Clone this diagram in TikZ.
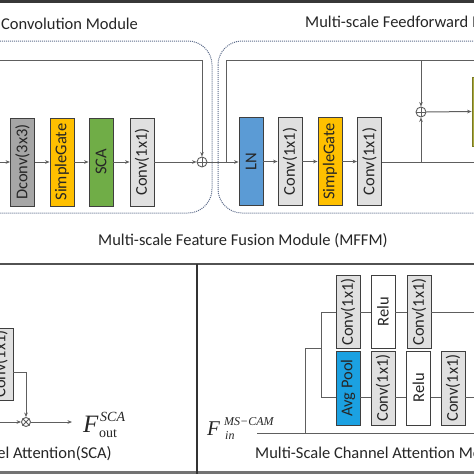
\documentclass[tikz,border=0pt]{standalone}
\usepackage{fontspec}
\setmainfont{Carlito}
\newfontfamily\tms{Liberation Serif}
\usetikzlibrary{arrows.meta,calc}
\definecolor{linec}{HTML}{5E5E5E}
\definecolor{bordc}{HTML}{3F3F3F}
\definecolor{dashc}{HTML}{5F6E8C}
\definecolor{dgray}{HTML}{A6A6A6}
\definecolor{lgray}{HTML}{E0E0E0}
\definecolor{gold}{HTML}{FFC000}
\definecolor{sgreen}{HTML}{70AD47}
\definecolor{lnblue}{HTML}{5B9BD5}
\definecolor{apblue}{HTML}{1BA1E2}
\definecolor{olive}{HTML}{A9A83E}
\definecolor{olived}{HTML}{7A7A22}
\begin{document}
\begin{tikzpicture}[x=1pt,y=-1pt,
  every node/.style={font=\fontsize{16.5}{16.5}\selectfont, text=black!85},
  blk/.style={draw=bordc, line width=0.8pt, inner sep=0pt, minimum width=24pt, minimum height=88pt},
  cn/.style={draw=linec, line width=1pt},
  arr/.style={cn, -{Stealth[length=4.5pt,width=3.6pt]}},
  dashbox/.style={draw=dashc, line width=1pt, dash pattern=on 1pt off 1pt, rounded corners=24pt},
  opl/.style={circle, draw=linec, line width=0.9pt, minimum size=10pt, inner sep=0pt, fill=white},
  lbl/.style={anchor=base west, inner sep=0pt},
]
\useasboundingbox (0,0) rectangle (474,474);
\clip (0,0) rectangle (474,474);
\fill[white] (0,0) rectangle (474,474);
% frame lines
\fill[black!78] (0,0) rectangle (474,3);
\draw[black!68, line width=1.8pt] (0,264) -- (474,264);
\draw[black!55, line width=3pt] (0,472.5) -- (474,472.5);
\draw[black!80, line width=1.2pt] (197,264) -- (197,474);

% titles
\node[lbl] (t1) at (1,29) {Convolution Module};
\node[lbl] (t2) at (305,27) {Multi-scale Feedforward Module};
\node[anchor=base, inner sep=0pt] (t3) at (243,245) {Multi-scale Feature Fusion Module (MFFM)};

% dashed module boxes
\draw[dashbox] (-60,41) rectangle (212,213);
\draw[dashbox] (218,41) rectangle (540,213);

% left module
\node[blk, fill=dgray] (dconv) at (22.5,162) {\rotatebox{90}{Dconv(3x3)}};
\node[blk, fill=gold] (sg1) at (62,162) {\rotatebox{90}{SimpleGate}};
\node[blk, fill=sgreen] (sca) at (101,162) {\rotatebox{90}{SCA}};
\node[blk, fill=lgray] (conv1) at (142,162) {\rotatebox{90}{Conv(1x1)}};
\node[opl] (p1) at (202,162) {};
\draw[linec, line width=0.9pt] (p1.north) -- (p1.south) (p1.west) -- (p1.east);
\coordinate (in1) at (-5,162);
\coordinate (skip1) at (-5,60);
\draw[arr] (in1) -- (dconv.west);
\draw[arr] (dconv.east) -- (sg1.west);
\draw[arr] (sg1.east) -- (sca.west);
\draw[arr] (sca.east) -- (conv1.west);
\draw[arr] (conv1.east) -- (p1.west);
\draw[arr] (skip1) -| (p1.north);

% right module
\node[blk, fill=lnblue] (ln) at (251,161.5) {\rotatebox{90}{LN}};
\node[blk, fill=lgray] (conv2) at (290,161.5) {\rotatebox{90}{Conv(1x1)}};
\node[blk, fill=gold] (sg2) at (330,161.5) {\rotatebox{90}{SimpleGate}};
\node[blk, fill=lgray] (conv3) at (369.5,161.5) {\rotatebox{90}{Conv(1x1)}};
\node[opl] (p2) at (421,112) {};
\draw[linec, line width=0.9pt] (p2.north) -- (p2.south) (p2.west) -- (p2.east);
\node[draw=olived, line width=0.8pt, fill=olive, inner sep=0pt, minimum width=24pt, minimum height=69pt] (olv) at (484,111.5) {};
\draw[arr] (p1.east) -- (ln.west |- p1.east);
\draw[arr] (ln.east) -- (conv2.west);
\draw[arr] (conv2.east) -- (sg2.west);
\draw[arr] (sg2.east) -- (conv3.west);
\coordinate (br) at (226,162);
\coordinate (top2) at (490,60);
\coordinate (t2x) at (421,60);
\coordinate (b2x) at (421,162);
\coordinate (out2) at (490,162);
\draw[cn] (br) |- (top2);
\draw[cn] (conv3.east |- br) -- (out2);
\draw[arr] (t2x) -- (p2.north);
\draw[arr] (b2x) -- (p2.south);
\draw[arr] (p2.east) -- (olv.west);

% bottom-left: SCA
\node[blk, fill=lgray, minimum width=25pt, minimum height=72pt] (convL) at (0.5,364) {\rotatebox{90}{Conv(1x1)}};
\node[opl, minimum size=9pt] (ot) at (26,422) {};
\draw[linec, line width=0.9pt] (ot.45) -- (ot.225) (ot.135) -- (ot.315);
\coordinate (inL) at (-5,422);
\coordinate (outL) at (72,422);
\draw[arr] ([yshift=-8pt]convL.east) -| (ot.north);
\draw[arr] (inL) -- (ot.west);
\draw[arr] (ot.east) -- (outL);
\node[lbl] (fsca) at (83,432) {\fontsize{25}{25}\selectfont\tms\itshape F};
\node[lbl] (fscasup) at (100,421) {\fontsize{14}{14}\selectfont\tms\itshape SCA};
\node[lbl] (fscasub) at (99,437) {\fontsize{14}{14}\selectfont\tms out};
\node[anchor=base east, inner sep=0pt] (t4) at (112,458) {Simplified Channel Attention(SCA)};

% bottom-right: MS-CAM
\node[blk, fill=lgray, minimum height=73pt] (uc1) at (348,312) {\rotatebox{90}{Conv(1x1)}};
\node[blk, fill=white, minimum height=73pt] (ur) at (383,312) {\rotatebox{90}{Relu}};
\node[blk, fill=lgray, minimum height=73pt] (uc2) at (419,312) {\rotatebox{90}{Conv(1x1)}};
\node[blk, fill=apblue, minimum height=74pt] (avg) at (348,388) {\rotatebox{90}{Avg Pool}};
\node[blk, fill=lgray, minimum height=74pt] (lc1) at (383,388) {\rotatebox{90}{Conv(1x1)}};
\node[blk, fill=white, minimum height=74pt] (lr) at (418.5,388) {\rotatebox{90}{Relu}};
\node[blk, fill=lgray, minimum height=74pt] (lc2) at (453,388) {\rotatebox{90}{Conv(1x1)}};
\coordinate (msin) at (257,433);
\coordinate (msend) at (490,433);
\coordinate (v1) at (305,433);
\coordinate (v2) at (321,348);
\coordinate (vu) at (321,312);
\coordinate (vl) at (321,397);
\coordinate (uend) at (490,312);
\coordinate (lend) at (490,397);
\draw[cn] (msin) -- (msend);
\draw[cn] (v1) |- (v2);
\draw[cn] (vu) -- (vl);
\draw[cn] (vu) -- (uc1.west);
\draw[cn] (vl) -- (avg.west |- vl);
\draw[cn] (uc1.east) -- (ur.west);
\draw[cn] (ur.east) -- (uc2.west);
\draw[cn] (uc2.east) -- (uend);
\draw[cn] (avg.east |- vl) -- (lc1.west |- vl);
\draw[cn] (lc1.east |- vl) -- (lr.west |- vl);
\draw[cn] (lr.east |- vl) -- (lc2.west |- vl);
\draw[cn] (lc2.east |- vl) -- (lend);
\node[lbl] (fin) at (207,435) {\fontsize{21}{21}\selectfont\tms\itshape F};
\node[lbl] (finsup) at (224,425) {\fontsize{12}{12}\selectfont\tms\itshape MS−CAM};
\node[lbl] (finsub) at (225,439) {\fontsize{12}{12}\selectfont\tms\itshape in};
\node[lbl] (t5) at (255,458) {Multi-Scale Channel Attention Module (MS-CAM)};
\end{tikzpicture}
\end{document}
